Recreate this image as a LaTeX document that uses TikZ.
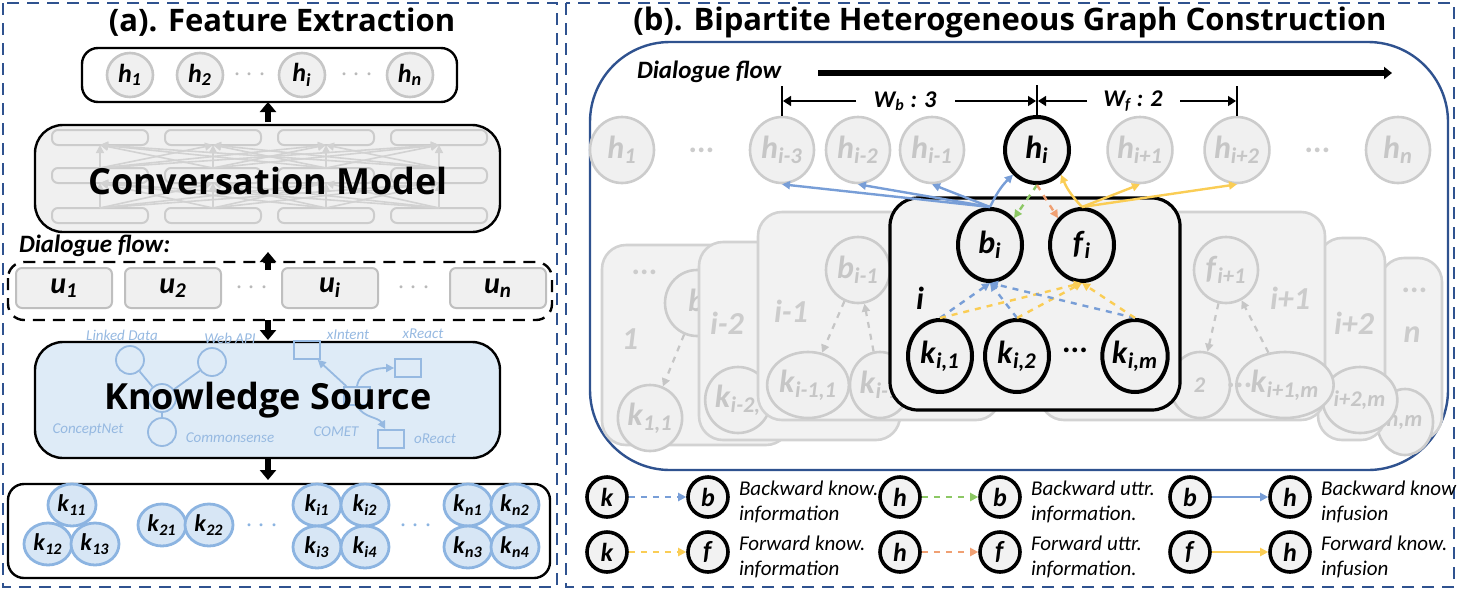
\documentclass[tikz,border=0pt]{standalone}
\usepackage{fontspec}
\setmainfont{Carlito}
\newfontfamily\titlefont{Open Sans}
\usetikzlibrary{arrows.meta,shapes.geometric}

\definecolor{frameblue}{RGB}{47,82,143}
\definecolor{arrblue}{RGB}{120,158,215}
\definecolor{arryellow}{RGB}{250,205,85}
\definecolor{arrgreen}{RGB}{140,200,100}
\definecolor{arrorange}{RGB}{240,160,115}
\definecolor{ksfill}{RGB}{222,235,247}
\definecolor{ksline}{RGB}{150,185,225}
\definecolor{kfill}{RGB}{215,230,245}
\definecolor{kline}{RGB}{140,180,225}

% labels with subscripts
\def\lab#1#2{\textbf{\textit{#1}}\textsubscript{\textbf{\textit{#2}}}}
\def\blab#1{\textbf{\textit{#1}}}

\tikzset{
  panel/.style={draw=frameblue, dashed, line width=1.2pt, dash pattern=on 6pt off 4pt},
  blk/.style={-{Triangle[length=5pt,width=8pt]}, line width=3pt},
  hgray/.style={ellipse, inner sep=0pt, minimum width=32pt, minimum height=33pt, draw=gray!40, line width=1.3pt, fill=gray!12, text=gray!45, font=\fontsize{16}{16}\selectfont},
  hblack/.style={hgray, draw=black, text=black, line width=2pt},
  hsmall/.style={ellipse, inner sep=0pt, minimum width=23pt, minimum height=22pt, draw=gray!45, line width=1.3pt, fill=gray!12, font=\fontsize{13}{13}\selectfont},
  knode/.style={ellipse, inner sep=0pt, minimum width=24pt, minimum height=21pt, draw=kline, line width=1.4pt, fill=kfill, font=\fontsize{12}{12}\selectfont},
  ubox/.style={rounded corners=3pt, draw=gray!50, line width=1pt, fill=gray!12, inner sep=0pt, minimum width=48pt, minimum height=20pt, font=\fontsize{15}{15}\selectfont},
  slide/.style={rounded corners=12pt, draw=gray!35, line width=1.3pt, fill=gray!10},
  gtext/.style={text=gray!40, font=\fontsize{16}{16}\selectfont\bfseries\itshape},
  gdash/.style={gray!45, dashed, line width=1.1pt, -{Triangle[length=4pt,width=4pt]}},
  leg/.style={circle, inner sep=0pt, minimum size=20pt, draw=black, line width=1.8pt, fill=gray!10, font=\fontsize{13}{13}\selectfont},
  legtext/.style={anchor=west, align=left, font=\fontsize{10.5}{12.5}\selectfont\itshape},
  ksnode/.style={draw=ksline, line width=0.9pt},
  kstext/.style={text=ksline, font=\fontsize{7.5}{7.5}\selectfont\itshape},
  tip/.style={-{Triangle[length=4pt,width=4pt]}},
}

\begin{document}
\begin{tikzpicture}[x=0.5pt,y=-0.5pt]
\useasboundingbox (0,0) rectangle (1457,590);

% ---------- panel (a)
\draw[panel] (3,3) rectangle (557,587);
\node[font=\titlefont\bfseries\fontsize{15.5}{16}\selectfont] (ta) at (282,22) {(a). Feature Extraction};

% hidden states
\draw[rounded corners=8pt, line width=1.2pt] (82,48) rectangle (457,102);
\node[hsmall] (ha1) at (130,75) {\lab{h}{1}};
\node[hsmall] (ha2) at (200,75) {\lab{h}{2}};
\node[hsmall] (hai) at (302,75) {\lab{h}{i}};
\node[hsmall] (han) at (410,75) {\lab{h}{n}};
\node[text=gray!55, font=\fontsize{14}{14}\selectfont\bfseries] at (250,75) {$\cdots$};
\node[text=gray!55, font=\fontsize{14}{14}\selectfont\bfseries] at (357,75) {$\cdots$};
\coordinate (a1s) at (268,122); \coordinate (a1e) at (268,102);
\draw[blk] (a1s) -- (a1e);

% conversation model
\draw[rounded corners=14pt, line width=1.2pt, fill=gray!12] (35,125) rectangle (500,232);
\foreach \c in {0,1,2,3} {
  \foreach \r/\y in {0/130,1/168,2/208} {
    \draw[rounded corners=3pt, draw=gray!40, line width=1pt] (52+113*\c,\y) rectangle ++(96,15);
  }
}
\foreach \a in {0,1,2,3} {
  \foreach \b in {0,1,2,3} {
    \draw[gray!35, line width=0.8pt, tip] (100+113*\a,208) -- (100+113*\b,183);
    \draw[gray!35, line width=0.8pt, tip] (100+113*\a,168) -- (100+113*\b,145);
  }
}
\node[font=\titlefont\bfseries\fontsize{18}{18}\selectfont] (cm) at (268,181) {Conversation Model};
\draw[blk] (268,270) -- (268,252);

% utterances
\node[anchor=west, font=\fontsize{12.5}{12.5}\selectfont\bfseries\itshape] (df) at (12,246) {Dialogue flow:};
\draw[rounded corners=8pt, dashed, dash pattern=on 6pt off 4pt, line width=1.2pt] (8,262) rectangle (552,320);
\node[ubox] (u1) at (64,288) {\lab{u}{1}};
\node[ubox] (u2) at (173,288) {\lab{u}{2}};
\node[ubox] (ui) at (330,288) {\lab{u}{i}};
\node[ubox] (un) at (498,288) {\lab{u}{n}};
\node[text=gray!55, font=\fontsize{14}{14}\selectfont\bfseries] at (252,288) {$\cdots$};
\node[text=gray!55, font=\fontsize{14}{14}\selectfont\bfseries] at (414,288) {$\cdots$};
\draw[blk] (268,320) -- (268,340);

% knowledge source
\draw[rounded corners=14pt, line width=1.2pt, fill=ksfill] (35,342) rectangle (500,458);
\node[ksnode, circle, minimum size=14pt] (c1) at (130,360) {};
\node[ksnode, circle, minimum size=14pt] (c2) at (212,362) {};
\node[ksnode, circle, minimum size=14pt] (c3) at (162,398) {};
\node[ksnode, circle, minimum size=14pt] (c4) at (162,432) {};
\draw[ksnode] (c1) -- (c3) -- (c2); \draw[ksnode] (c3) -- (c4);
\node[kstext] at (122,335) {Linked Data};
\node[kstext] at (230,338) {Web API};
\node[kstext] at (88,430) {ConceptNet};
\node[kstext] at (230,438) {Commonsense};
\node[ksnode, minimum width=13pt, minimum height=9pt] (xi) at (307,350) {};
\node[ksnode, minimum width=13pt, minimum height=9pt] (xr) at (408,368) {};
\node[ksnode, minimum width=13pt, minimum height=9pt] (co) at (357,396) {};
\node[ksnode, minimum width=13pt, minimum height=9pt] (or) at (391,439) {};
\draw[ksnode, tip] (co) -- (xi);
\draw[ksnode, tip] (co.north) to[out=80, in=180] (xr);
\draw[ksnode, tip] (co.south) to[out=-60, in=120] (or);
\node[kstext] at (348,335) {xIntent};
\node[kstext] at (423,334) {xReact};
\node[kstext] at (336,432) {COMET};
\node[kstext] at (435,439) {oReact};
\node[font=\titlefont\bfseries\fontsize{18}{18}\selectfont] (ks) at (268,400) {Knowledge Source};
\draw[blk] (268,458) -- (268,480);

% knowledge items
\draw[rounded corners=8pt, line width=1.2pt] (8,484) rectangle (550,578);
\node[knode] (k11) at (72,505) {\lab{k}{11}};
\node[knode] (k12) at (48,544) {\lab{k}{12}};
\node[knode] (k13) at (95,544) {\lab{k}{13}};
\node[knode] (k21) at (162,525) {\lab{k}{21}};
\node[knode] (k22) at (209,525) {\lab{k}{22}};
\node[knode] (ki1) at (317,505) {\lab{k}{i1}};
\node[knode] (ki2) at (365,505) {\lab{k}{i2}};
\node[knode] (ki3) at (317,547) {\lab{k}{i3}};
\node[knode] (ki4) at (365,547) {\lab{k}{i4}};
\node[knode] (kn1) at (468,505) {\lab{k}{n1}};
\node[knode] (kn2) at (515,505) {\lab{k}{n2}};
\node[knode] (kn3) at (468,547) {\lab{k}{n3}};
\node[knode] (kn4) at (515,547) {\lab{k}{n4}};
\node[text=kline, font=\fontsize{14}{14}\selectfont\bfseries] at (262,526) {$\cdots$};
\node[text=kline, font=\fontsize{14}{14}\selectfont\bfseries] at (416,526) {$\cdots$};

% ---------- panel (b)
\draw[panel] (566,3) rectangle (1454,587);
\node[font=\titlefont\bfseries\fontsize{15.5}{16}\selectfont] (tb) at (1010,22) {(b). Bipartite Heterogeneous Graph Construction};
\draw[draw=frameblue, line width=1.2pt, rounded corners=40pt] (590,42) rectangle (1448,470);
\node[anchor=west, font=\fontsize{12.5}{12.5}\selectfont\bfseries\itshape] (df2) at (630,72) {Dialogue flow};
\coordinate (fs) at (818,73); \coordinate (fe) at (1392,73);
\draw[line width=3pt, -{Triangle[length=4pt,width=6pt]}] (fs) -- (fe);

% background slides (left)
\draw[slide] (602,245) rectangle (790,445);
\node[gtext] at (645,272) {...};
\node[gtext] at (630,339) {1};
\node[hgray, minimum width=28pt] (k11b) at (650,418) {\lab{k}{1,1}};
\node[hgray] (bb1) at (697,303) {\lab{b}{}};
\draw[gdash] (bb1) -- (k11b);
\draw[slide] (699,242) rectangle (900,440);
\node[gtext] at (727,323) {i-2};
\node[hgray, minimum width=28pt] (k21b) at (738,400) {\lab{k}{i-2,}};
\draw[slide] (758,212) rectangle (1000,420);
\node[gtext] at (791,311) {i-1};
\node[hgray] (bim1) at (858,270) {\lab{b}{i-1}};
\node[hgray, minimum width=30pt] (k31b) at (808,385) {\lab{k}{i-1,1}};
\node[hgray, minimum width=30pt] (k32b) at (880,385) {\lab{k}{i-1}};
\draw[gdash] (bim1) -- (k31b);
\draw[gdash] (k32b) -- (bim1);

% background slides (right)
\draw[slide] (1380,258) rectangle (1442,440);
\node[gtext] at (1415,290) {...};
\node[gtext] at (1412,335) {n};
\node[hgray, minimum width=28pt] (knm) at (1405,422) {\lab{}{n,m}};
\draw[slide] (1318,238) rectangle (1385,440);
\node[gtext] at (1354,323) {i+2};
\node[hgray, minimum width=28pt] (k2m) at (1360,400) {\lab{}{i+2,m}};
\draw[slide] (1040,212) rectangle (1325,420);
\node[gtext] at (1290,298) {i+1};
\node[hgray] (fip1) at (1226,270) {\lab{f}{i+1}};
\node[hgray, minimum width=30pt] (kp2) at (1200,385) {\lab{}{2}};
\node[hgray, minimum width=30pt] (kpm) at (1285,385) {\lab{k}{i+1,m}};
\node[gtext] at (1240,385) {...};
\draw[gdash] (kpm) -- (fip1);
\draw[gdash] (fip1) -- (kp2);

% current slide i
\draw[rounded corners=14pt, line width=1.6pt, fill=gray!10] (890,198) rectangle (1180,410);
\node[font=\fontsize{16}{16}\selectfont\bfseries\itshape] at (920,298) {i};
\node[hblack, minimum height=36pt] (bi) at (990,245) {\lab{b}{i}};
\node[hblack, minimum height=36pt] (fi) at (1082,245) {\lab{f}{i}};
\node[hblack, minimum height=36pt] (kic1) at (940,356) {\lab{k}{i,1}};
\node[hblack, minimum height=36pt] (kic2) at (1017,356) {\lab{k}{i,2}};
\node[hblack, minimum height=36pt] (kicm) at (1135,356) {\lab{k}{i,m}};
\node[font=\fontsize{16}{16}\selectfont\bfseries] at (1075,350) {...};

% utterance states
\node[hgray] (h1) at (622,150) {\lab{h}{1}};
\node[gtext] at (702,150) {...};
\node[hgray] (hm3) at (782,150) {\lab{h}{i-3}};
\node[hgray] (hm2) at (858,150) {\lab{h}{i-2}};
\node[hgray] (hm1) at (932,150) {\lab{h}{i-1}};
\node[hblack] (hi) at (1037,150) {\lab{h}{i}};
\node[hgray] (hp1) at (1140,150) {\lab{h}{i+1}};
\node[hgray] (hp2) at (1237,150) {\lab{h}{i+2}};
\node[gtext] at (1318,150) {...};
\node[hgray] (hn) at (1398,150) {\lab{h}{n}};

% windows
\draw[line width=0.8pt] (hm3.north) -- ++(0,-30) coordinate (wb0);
\draw[line width=0.8pt] (hi.north) -- ++(0,-30) coordinate (wb1);
\draw[line width=0.8pt] (hp2.north) -- ++(0,-30) coordinate (wf1);
\coordinate (wbm) at (905,101);
\coordinate (wfm) at (1133,101);
\draw[line width=0.8pt, -{Triangle[length=4pt,width=5pt]}] (856,101) -- (783,101);
\draw[line width=0.8pt, -{Triangle[length=4pt,width=5pt]}] (955,101) -- (1036,101);
\draw[line width=0.8pt, -{Triangle[length=4pt,width=5pt]}] (1087,101) -- (1038,101);
\draw[line width=0.8pt, -{Triangle[length=4pt,width=5pt]}] (1180,101) -- (1236,101);
\node[font=\fontsize{12}{12}\selectfont\bfseries\itshape] at (wbm) {W\textsubscript{b} : 3};
\node[font=\fontsize{12}{12}\selectfont\bfseries\itshape] at (wfm) {W\textsubscript{f} : 2};

% infusion arrows
\foreach \t in {hm3,hm2,hm1} \draw[arrblue, line width=1.2pt, tip] (bi.north) -- (\t.south);
\draw[arrblue, line width=1.2pt, tip] (bi.north) to[bend left=10] (hi.south west);
\foreach \t in {hp1,hp2} \draw[arryellow, line width=1.2pt, tip] (fi.north) -- (\t.south);
\draw[arryellow, line width=1.2pt, tip] (fi.north) to[bend left=10] (hi.south east);
\draw[arrgreen, dashed, line width=1.2pt, tip] (hi.south) -- (bi.north east);
\draw[arrorange, dashed, line width=1.2pt, tip] (hi.south) -- (fi.north west);
% knowledge arrows
\foreach \s in {kic1,kic2,kicm} {
  \draw[arrblue, dashed, line width=1.2pt, tip] (\s.north) -- (bi.south);
  \draw[arryellow, dashed, line width=1.2pt, tip] (\s.north) -- (fi.south);
}

% legend
\foreach \y/\a/\b/\c/\s/\txt in {497/k/b/arrblue/dashed/{Backward know.\\information},552/k/f/arryellow/dashed/{Forward know.\\information}} {
  \node[leg] (la\y) at (607,\y) {\blab{\a}};
  \node[leg] (lb\y) at (708,\y) {\blab{\b}};
  \draw[\c, \s, line width=1.2pt, tip] (la\y) -- (lb\y);
  \node[legtext] at (732,\y+5) {\txt};
}
\foreach \y/\a/\b/\c/\s/\txt in {497/h/b/arrgreen/dashed/{Backward uttr.\\information.},552/h/f/arrorange/dashed/{Forward uttr.\\information.}} {
  \node[leg] (lc\y) at (900,\y) {\blab{\a}};
  \node[leg] (ld\y) at (1000,\y) {\blab{\b}};
  \draw[\c, \s, line width=1.2pt, tip] (lc\y) -- (ld\y);
  \node[legtext] at (1024,\y+5) {\txt};
}
\foreach \y/\a/\b/\c/\s/\txt in {497/b/h/arrblue/solid/{Backward know\\infusion},552/f/h/arryellow/solid/{Forward know.\\infusion}} {
  \node[leg] (le\y) at (1190,\y) {\blab{\a}};
  \node[leg] (lf\y) at (1290,\y) {\blab{\b}};
  \draw[\c, \s, line width=1.2pt, tip] (le\y) -- (lf\y);
  \node[legtext] at (1314,\y+5) {\txt};
}
\end{tikzpicture}
\end{document}
